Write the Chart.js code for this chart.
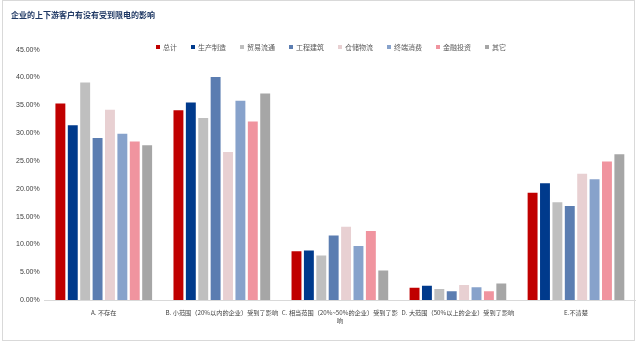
<!DOCTYPE html>
<html>
<head>
<meta charset="utf-8">
<script src="https://cdn.jsdelivr.net/npm/chart.js@4"></script>
<style>
  html, body { margin: 0; padding: 0; background: #fff; }
  #wrap { position: relative; width: 640px; height: 344px; }
  #frame { position: absolute; left: 2px; top: 0; width: 633px; height: 341px; border: 1px solid #d9d9d9; box-sizing: border-box; pointer-events: none; }
</style>
</head>
<body>
<div id="wrap">
  <canvas id="chart" width="640" height="344"></canvas>
  <div id="frame"></div>
</div>
<script>
// categories on the x axis
var categories = [
    "A. 不存在",
    "B. 小范围（20%以内的企业）受到了影响",
    ["C. 相当范围（20%~50%的企业）受到了影", "响"],
    "D. 大范围（50%以上的企业）受到了影响",
    "E.不清楚"
];

var seriesNames = ["总计", "生产制造", "贸易流通", "工程建筑", "仓储物流", "终端消费", "金融投资", "其它"];

// values in %
var total      = [35.3, 34.1, 8.8, 2.2, 19.3];
var production = [31.4, 35.5, 8.9, 2.6, 21.0];
var trade      = [39.1, 32.7, 8.0, 2.0, 17.6];
var building   = [29.1, 40.1, 11.6, 1.6, 16.9];
var logistics  = [34.2, 26.6, 13.2, 2.7, 22.7];
var consumer   = [29.9, 35.8, 9.7, 2.3, 21.7];
var finance    = [28.5, 32.1, 12.4, 1.6, 24.9];
var other      = [27.8, 37.1, 5.3, 3.0, 26.2];

var colors = ["#C00000", "#003A8C", "#BFBFBF", "#5B7DB1", "#E8D0D2", "#87A2CB", "#F0949F", "#A6A6A6"];
var allValues = [total, production, trade, building, logistics, consumer, finance, other];

var datasets = [];
for (var i = 0; i < seriesNames.length; i++) {
    datasets.push({
        label: seriesNames[i],
        data: allValues[i],
        backgroundColor: colors[i],
        barPercentage: 0.8,
        categoryPercentage: 0.84
    });
}

var cjk = "'Noto Sans CJK SC', 'Noto Sans', sans-serif";

// legend sits inside the plot area, on one row near the top
var inlineLegend = {
    id: 'inlineLegend',
    afterDraw: function(chart) {
        var ctx = chart.ctx;
        var sets = chart.data.datasets;
        var y = 47;
        var gap = 14;
        ctx.save();
        ctx.font = "7px " + cjk;
        ctx.textBaseline = 'middle';
        var total = 0;
        var widths = [];
        for (var k = 0; k < sets.length; k++) {
            var w = 4 + 3 + ctx.measureText(sets[k].label).width;
            widths.push(w);
            total += w + (k < sets.length - 1 ? gap : 0);
        }
        var x = 331 - total / 2;
        for (var k = 0; k < sets.length; k++) {
            ctx.fillStyle = sets[k].backgroundColor;
            ctx.fillRect(x, y - 2, 4, 4);
            ctx.fillStyle = '#595959';
            ctx.fillText(sets[k].label, x + 7, y);
            x += widths[k] + gap;
        }
        ctx.restore();
    }
};

new Chart(document.getElementById("chart"), {
    type: 'bar',
    data: {
        labels: categories,
        datasets: datasets
    },
    options: {
        responsive: false,
        animation: false,
        layout: {
            padding: { left: 11, right: 5, top: 0, bottom: 19 }
        },
        plugins: {
            title: {
                display: true,
                text: '企业的上下游客户有没有受到限电的影响',
                align: 'start',
                color: '#1F3864',
                font: { family: cjk, size: 8, weight: 'bold' },
                padding: { top: 10, bottom: 30 }
            },
            legend: { display: false },
            tooltip: { enabled: false }
        },
        scales: {
            x: {
                grid: { display: false },
                border: { display: true, color: '#d9d9d9' },
                ticks: {
                    autoSkip: false,
                    maxRotation: 0,
                    minRotation: 0,
                    color: '#404040',
                    padding: 1,
                    font: { family: cjk, size: 6.2 }
                }
            },
            y: {
                min: 0,
                max: 45,
                grid: { display: false, drawTicks: false, tickLength: 0 },
                border: { display: false },
                ticks: {
                    stepSize: 5,
                    color: '#404040',
                    padding: 5,
                    font: { family: "'Liberation Sans', sans-serif", size: 7 },
                    callback: function(v) { return v.toFixed(2) + '%'; }
                }
            }
        }
    },
    plugins: [inlineLegend]
});
</script>
</body>
</html>
